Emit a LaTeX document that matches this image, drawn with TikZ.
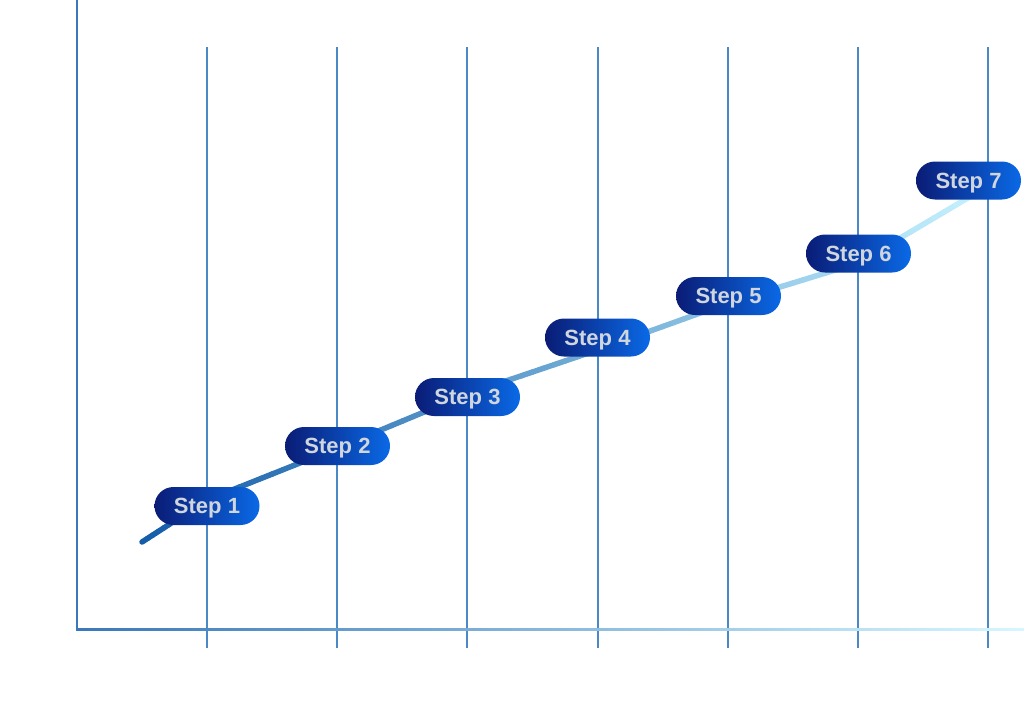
\documentclass[tikz,border=0pt]{standalone}
\usepackage{fontspec}
\setmainfont{Liberation Sans}
\usetikzlibrary{shapes.misc,calc}
\definecolor{gridc}{HTML}{4A88C6}
\definecolor{axisc}{HTML}{3A78BA}
\definecolor{axisend}{HTML}{D6F7FF}
\definecolor{lineStart}{HTML}{135DA8}
\definecolor{lineEnd}{HTML}{C6F3FF}
\definecolor{pillL}{HTML}{0A1C76}
\definecolor{pillR}{HTML}{0A69E6}
\definecolor{pilltext}{HTML}{D0D6DE}
\tikzset{
  gridline/.style={draw=gridc, line width=1.5pt},
  steppill/.style={rounded rectangle, minimum width=105pt, minimum height=38pt,
    inner sep=0pt, left color=pillL, right color=pillR, draw=none,
    text height=15.5pt, text depth=0pt,
    text=pilltext, font=\fontsize{22}{24}\selectfont\bfseries},
  chartline/.style={line width=5.5pt, line cap=round}
}
\begin{document}
\begin{tikzpicture}[x=1pt, y=-1pt]
\useasboundingbox (0,0) rectangle (1024,709);
% grid lines
\foreach \gx [count=\i] in {207,337,467,598,728,858,988}{
  \coordinate (gt\i) at (\gx,47);
  \coordinate (gb\i) at (\gx,648);
  \draw[gridline] (gt\i) -- (gb\i);
}
% axes
\coordinate (ytop) at (77,0);
\coordinate (orig) at (77,629);
\coordinate (xend) at (1024,629);
\shade[left color=axisc, right color=axisend] (76,628) rectangle (1024,630);
\draw[draw=axisc, line width=2pt] (ytop) -- (orig);
% chart line vertices
\foreach \n/\px/\py in {0/142/542,1/207/500,2/337.5/448,3/467.5/394,4/597.5/350,
  5/728/303,6/858/263,7/988/186}{
  \coordinate (v\n) at (\px,\py);
}
\foreach \a/\b/\xa/\xb in {0/1/142/207,1/2/207/337.5,2/3/337.5/467.5,3/4/467.5/597.5,
  4/5/597.5/728,5/6/728/858,6/7/858/988}{
  \foreach \k in {0,...,11}{
    \pgfmathsetmacro{\ta}{\k/12}
    \pgfmathsetmacro{\tb}{(\k+1)/12}
    \pgfmathsetmacro{\pc}{((\xa+(\k+0.5)/12*(\xb-\xa))-142)/8.46}
    \draw[chartline, draw=lineEnd!\pc!lineStart] ($(v\a)!\ta!(v\b)$) -- ($(v\a)!\tb!(v\b)$);
  }
}
% pills
\node[steppill] (s1) at (207,506) {Step 1};
\node[steppill] (s2) at (337.5,446) {Step 2};
\node[steppill] (s3) at (467.5,397) {Step 3};
\node[steppill] (s4) at (597.5,337.5) {Step 4};
\node[steppill] (s5) at (728.5,296) {Step 5};
\node[steppill] (s6) at (858.5,253.5) {Step 6};
\node[steppill] (s7) at (968.5,180.5) {Step 7};
\end{tikzpicture}
\end{document}
